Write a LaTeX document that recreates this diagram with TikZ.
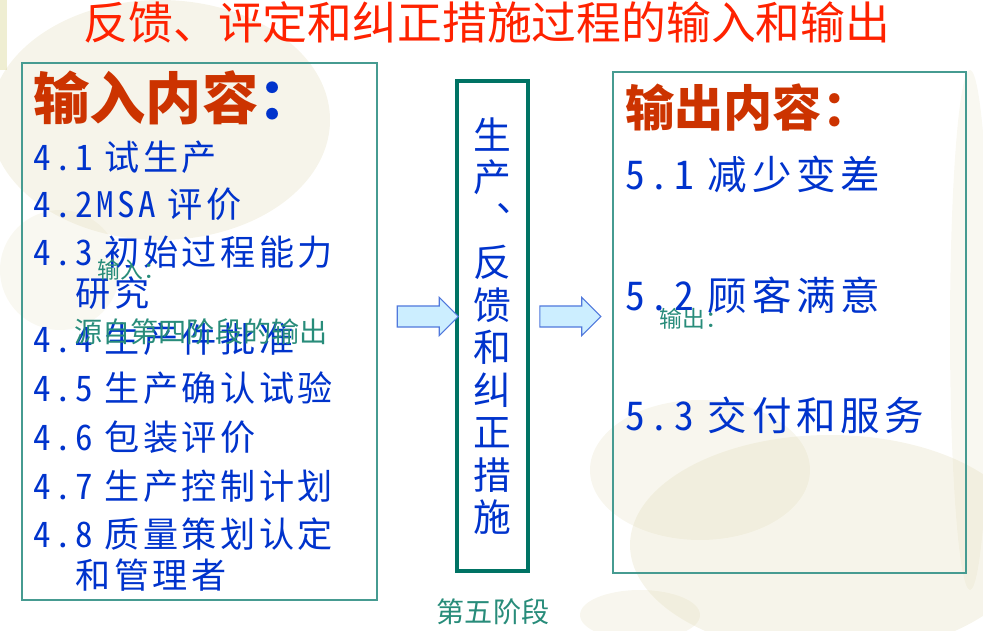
\documentclass[tikz,border=0pt]{standalone}
\usepackage{fontspec}
\setmainfont{Noto Sans CJK SC}
\usetikzlibrary{shapes.arrows}

\definecolor{titlered}{RGB}{255,34,0}
\definecolor{headred}{RGB}{204,51,0}
\definecolor{itemblue}{RGB}{0,51,204}
\definecolor{notegreen}{RGB}{40,140,122}
\definecolor{thinteal}{RGB}{70,155,145}
\definecolor{thickteal}{RGB}{0,115,100}
\definecolor{arrowfill}{RGB}{204,238,255}
\definecolor{arrowline}{RGB}{80,120,220}
\definecolor{paper}{RGB}{226,220,186}

\newcommand\hw[1]{{\addfontfeature{CharacterWidth=Half}#1}}

\begin{document}
\begin{tikzpicture}[x=0.02cm,y=-0.02cm,
title/.style={text=titlered, font=\fontsize{25.5}{30}\selectfont, inner sep=0},
head/.style={text=headred, font=\fontsize{32}{36}\selectfont\bfseries, anchor=west, inner sep=0},
item/.style={text=itemblue, font=\fontsize{20}{24}\selectfont\addfontfeature{LetterSpace=10}, anchor=west, inner sep=0},
ritem/.style={text=itemblue, font=\fontsize{22.5}{26}\selectfont\addfontfeature{LetterSpace=12}, anchor=west, inner sep=0},
note/.style={text=notegreen, inner sep=0},
box/.style={rectangle, draw=thinteal, line width=0.8pt, inner sep=0},
midbox/.style={rectangle, draw=thickteal, line width=2.3pt, inner sep=0, align=center, text=itemblue,
  minimum width=1.42cm, minimum height=9.8cm, font=\fontsize{21.5}{24.2}\selectfont},
blockarrow/.style={single arrow, draw=arrowline, fill=arrowfill, line width=0.6pt, inner xsep=0, inner ysep=0.2cm,
  minimum height=1.22cm, minimum width=0.74cm, single arrow head extend=0.17cm, single arrow head indent=0cm}]

\useasboundingbox (0,0) rectangle (983,631);

% faint paper background
\fill[paper, opacity=0.3] (160,120) ellipse (170 and 120);
\fill[paper, opacity=0.2] (60,270) ellipse (60 and 60);
\fill[olive!40, opacity=0.35] (0,0) rectangle (7,70);
\fill[paper, opacity=0.3] (830,545) ellipse (200 and 110);
\fill[paper, opacity=0.25] (700,470) ellipse (110 and 70);
\fill[paper, opacity=0.2] (970,330) ellipse (20 and 260);
\fill[paper, opacity=0.25] (640,615) ellipse (60 and 25);

\draw (487,22) node[title] (T) {反馈、评定和纠正措施过程的输入和输出};

% input side
\draw (199.5,331.5) node[box, minimum width=7.1cm, minimum height=10.74cm] (In) {};
\draw (33,98) node[head] (InH) {输入内容\textcolor{itemblue}{：}};
\draw (33,157) node[item] (I1) {\hw{4.1} 试生产};
\draw (33,204) node[item] (I2) {\hw{4.2MSA} 评价};
\draw (33,252) node[item] (I3) {\hw{4.3} 初始过程能力};
\draw (75,293) node[item] (I3b) {研究};
\draw (33,339) node[item] (I4) {\hw{4.4} 生产件批准};
\draw (33,388) node[item] (I5) {\hw{4.5} 生产确认试验};
\draw (33,437) node[item] (I6) {\hw{4.6} 包装评价};
\draw (33,486) node[item] (I7) {\hw{4.7} 生产控制计划};
\draw (33,534) node[item] (I8) {\hw{4.8} 质量策划认定};
\draw (75,575) node[item] (I8b) {和管理者};
\draw (132,270) node[note, font=\fontsize{13}{15}\selectfont] (InN) {输入：};
\draw (201,332) node[note, font=\fontsize{16}{18}\selectfont] (InS) {源自第四阶段的输出};

% stage five
\draw (492.5,326) node[midbox] (M) {生\\产\\︑\\反\\馈\\和\\纠\\正\\措\\施};
\draw (493,612) node[note, font=\fontsize{16}{18}\selectfont] (MS) {第五阶段};
\draw (422.5,316.5) node[blockarrow] (LA) {};
\draw (565,316.5) node[blockarrow] (RA) {};

% output side
\draw (789.5,322.5) node[box, minimum width=7.06cm, minimum height=10.02cm] (Out) {};
\draw (625,108) node[head, font=\fontsize{28}{32}\selectfont\bfseries] (OutH) {输出内容：};
\draw (625,174) node[ritem] (O1) {\hw{5.1} 减少变差};
\draw (625,295) node[ritem] (O2) {\hw{5.2} 顾客满意};
\draw (625,415) node[ritem] (O3) {\hw{5.3} 交付和服务};
\draw (694,319) node[note, font=\fontsize{13}{15}\selectfont] (OutN) {输出：};

\end{tikzpicture}
\end{document}
